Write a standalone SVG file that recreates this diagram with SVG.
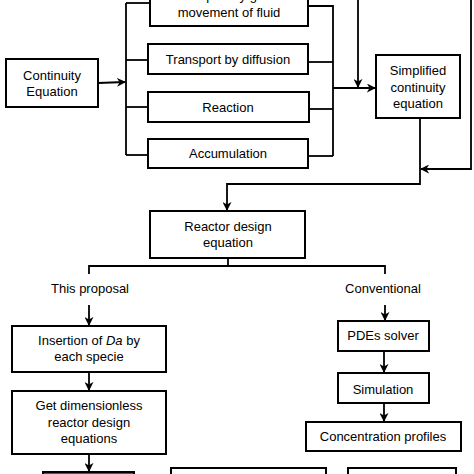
<svg xmlns="http://www.w3.org/2000/svg" width="474" height="474" viewBox="0 0 474 474">
<style>
.box{fill:#fff;stroke:#000;stroke-width:2}
.dark{fill:#555;stroke:#000;stroke-width:2}
.ln{fill:none;stroke:#000;stroke-width:1.8}
text{font-family:"Liberation Sans",Arial,sans-serif;font-size:13px;fill:#000;text-anchor:middle}
</style>
<defs>
<marker id="ah" viewBox="0 0 10 10" refX="9" refY="5" markerWidth="9" markerHeight="9" markerUnits="userSpaceOnUse" orient="auto">
<path d="M0,0 L10,5 L0,10 L3,5 z" fill="#000"/>
</marker>
</defs>
<rect width="474" height="474" fill="#fff"/>
<g id="connectors">
<path class="ln" d="M98,83 L125,82" marker-end="url(#ah)"/>
<path class="ln" d="M126,3 L126,155"/>
<path class="ln" d="M126,3 L150,3"/>
<path class="ln" d="M126,60 L148,60"/>
<path class="ln" d="M126,107 L148,107"/>
<path class="ln" d="M126,155 L148,155"/>
<path class="ln" d="M309,6 L333,6 L333,156"/>
<path class="ln" d="M308,62 L333,62"/>
<path class="ln" d="M309,109 L333,109"/>
<path class="ln" d="M308,156 L333,156"/>
<path class="ln" d="M333,88 L375,88" marker-end="url(#ah)"/>
<path class="ln" d="M358,0 L358,87" marker-end="url(#ah)"/>
<path class="ln" d="M471,0 L471,169 L421,169" marker-end="url(#ah)"/>
<path class="ln" d="M420,118 L420,184 L227,184 L227,210" marker-end="url(#ah)"/>
<path class="ln" d="M228,258 L228,266"/>
<path class="ln" d="M89,274 L89,266 L385,266 L385,274"/>
<path class="ln" d="M89,305 L89,325" marker-end="url(#ah)"/>
<path class="ln" d="M385,305 L385,320" marker-end="url(#ah)"/>
<path class="ln" d="M89,372 L89,390" marker-end="url(#ah)"/>
<path class="ln" d="M89,454 L89,471" marker-end="url(#ah)"/>
<path class="ln" d="M384,351 L384,372" marker-end="url(#ah)"/>
<path class="ln" d="M384,403 L384,421" marker-end="url(#ah)"/>
</g>
<g id="continuity">
<rect class="box" x="6" y="59" width="92" height="48"/>
<text x="52" y="80">Continuity</text>
<text x="52" y="96">Equation</text>
</g>
<g id="movement">
<rect class="box" x="150" y="-20" width="158" height="46"/>
<text x="229" y="-0.5">Transport by global</text>
<text x="229" y="17">movement of fluid</text>
</g>
<g id="diffusion">
<rect class="box" x="148" y="44" width="160" height="30"/>
<text x="228" y="64">Transport by diffusion</text>
</g>
<g id="reaction">
<rect class="box" x="148" y="92" width="161" height="30"/>
<text x="228" y="112">Reaction</text>
</g>
<g id="accumulation">
<rect class="box" x="148" y="139" width="160" height="29"/>
<text x="228" y="158">Accumulation</text>
</g>
<g id="simplified">
<rect class="box" x="376" y="55" width="84" height="63"/>
<text x="418" y="75">Simplified</text>
<text x="418" y="92">continuity</text>
<text x="418" y="108">equation</text>
</g>
<g id="reactor">
<rect class="box" x="150" y="211" width="155" height="47"/>
<text x="228" y="231">Reactor design</text>
<text x="228" y="247">equation</text>
</g>
<g id="label-proposal"><text x="90" y="293">This proposal</text></g>
<g id="label-conventional"><text x="383" y="293">Conventional</text></g>
<g id="insertion">
<rect class="box" x="12" y="326" width="154" height="46"/>
<text x="89" y="345">Insertion of <tspan font-style="italic">Da</tspan> by</text>
<text x="89" y="361">each specie</text>
</g>
<g id="dimensionless">
<rect class="box" x="12" y="391" width="154" height="63"/>
<text x="89" y="410">Get dimensionless</text>
<text x="89" y="427">reactor design</text>
<text x="89" y="443">equations</text>
</g>
<g id="pdes">
<rect class="box" x="338" y="321" width="91" height="30"/>
<text x="383" y="340">PDEs solver</text>
</g>
<g id="simulation">
<rect class="box" x="338" y="373" width="91" height="30"/>
<text x="383" y="394">Simulation</text>
</g>
<g id="profiles">
<rect class="box" x="306" y="422" width="155" height="29"/>
<text x="383" y="441">Concentration profiles</text>
</g>
<g id="bottom1"><rect class="dark" x="43" y="472" width="91" height="20"/></g>
<g id="bottom2"><rect class="box" x="171" y="468" width="155" height="20"/></g>
<g id="bottom3"><rect class="box" x="348" y="468" width="108" height="20"/></g>
</svg>
